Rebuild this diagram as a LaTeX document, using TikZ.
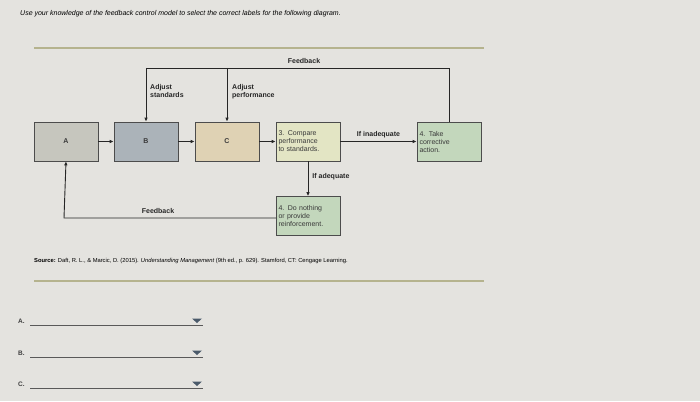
\documentclass[tikz,border=0pt]{standalone}
\usepackage{fontspec}
\setmainfont{Liberation Sans}
\usetikzlibrary{arrows.meta}
\definecolor{bg}{HTML}{E4E3DF}
\definecolor{olive}{HTML}{B5B38E}
\definecolor{ca}{HTML}{C6C6BE}
\definecolor{cb}{HTML}{ABB3B9}
\definecolor{cc}{HTML}{DFD2B4}
\definecolor{cd}{HTML}{E3E5C4}
\definecolor{ce}{HTML}{C3D7BC}
\definecolor{txt}{HTML}{3A3A3A}
\definecolor{tri}{HTML}{4A5A6A}
\begin{document}
\begin{tikzpicture}[x=1pt,y=-1pt,
  box/.style={draw=black!70,line width=0.6pt,minimum width=64pt,minimum height=39pt,inner sep=2pt,font=\fontsize{7}{8}\selectfont,text=txt},
  lbl/.style={font=\bfseries\fontsize{7}{8}\selectfont,text=black!85,inner sep=0pt},
  conn/.style={draw=black!85,line width=0.9pt},
  arr/.style={conn,-{Latex[length=4pt,width=3.5pt]}}]
\fill[bg] (0,0) rectangle (700,401);
\useasboundingbox (0,0) rectangle (700,401);
\node[anchor=west,font=\itshape\fontsize{7}{8}\selectfont,inner sep=0pt] (title) at (20,14) {Use your knowledge of the feedback control model to select the correct labels for the following diagram.};
\draw[olive,line width=1.5pt] (34,48) -- (484,48);
\draw[olive,line width=1.5pt] (34,281) -- (484,281);
\node[box,fill=ca,font=\bfseries\fontsize{7}{8}\selectfont] (A) at (66,141.5) {A};
\node[box,fill=cb,font=\bfseries\fontsize{7}{8}\selectfont] (B) at (146,141.5) {B};
\node[box,fill=cc,font=\bfseries\fontsize{7}{8}\selectfont] (C) at (227,141.5) {C};
\node[box,fill=cd,align=left,text width=59pt] (D) at (308,141.5) {3. Compare\\performance\\to standards.};
\node[box,fill=ce,align=left,text width=59pt] (E) at (449,141.5) {4. Take\\corrective\\action.};
\node[box,fill=ce,align=left,text width=59pt] (F) at (308,216) {4. Do nothing\\or provide\\reinforcement.};
\draw[arr] (A) -- (B);
\draw[arr] (B) -- (C);
\draw[arr] (C) -- (D);
\draw[arr] (D) -- node[lbl,above=3pt] {If inadequate} (E);
\draw[arr] (D) -- node[lbl,right=4pt,pos=0.45] {If adequate} (F);
\coordinate (tl) at (146,68);
\coordinate (tm) at (227,68);
\coordinate (tr) at (449,68);
\draw[conn] (E.north) -- (tr) -- (tl);
\draw[arr] (tl) -- (B.north);
\draw[arr] (tm) -- (C.north);
\node[lbl] (fb1) at (304,61) {Feedback};
\node[lbl,anchor=north west,align=left] (as) at (150,84) {Adjust\\standards};
\node[lbl,anchor=north west,align=left] (ap) at (232,84) {Adjust\\performance};
\coordinate (bl) at (64,218);
\coordinate (fl) at (276,218);
\draw[arr] (fl) -- (bl) -- (A.south);
\node[lbl] (fb2) at (158,211) {Feedback};
\node[anchor=west,inner sep=0pt,font=\fontsize{5.8}{7}\selectfont] (src) at (34,261) {\textbf{Source:} Daft, R. L., \& Marcic, D. (2015). \textit{Understanding Management} (9th ed., p. 629). Stamford, CT: Cengage Learning.};
\foreach \l/\yy in {A/321,B/353,C/384}{
  \node[anchor=west,inner sep=0pt,font=\bfseries\fontsize{6.5}{7}\selectfont,text=black!75] (q\l) at (18,\yy) {\l.};
  \draw[black!65,line width=0.8pt] (30,\yy+4) -- (203,\yy+4);
  \fill[tri] (192,\yy-2.5) -- (202,\yy-2.5) -- (197,\yy+2) -- cycle;
}
\end{tikzpicture}
\end{document}
